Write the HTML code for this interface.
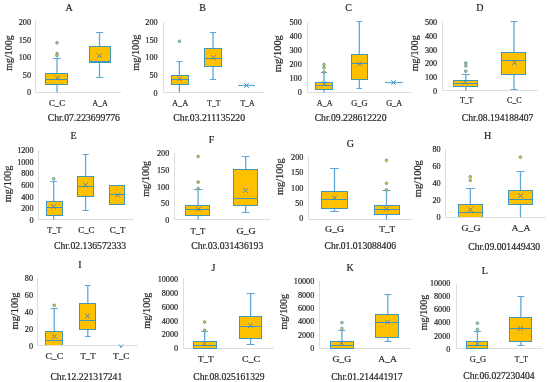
<!DOCTYPE html>
<html><head><meta charset="utf-8"><title>Box plots</title>
<style>
html,body{margin:0;padding:0;background:#fff;width:550px;height:382px;overflow:hidden}
svg{display:block;will-change:transform}
text{font-family:"Liberation Serif",serif;fill:#262626;stroke:#262626;stroke-width:0.2px}
.t{font-size:8.2px}
.ti{font-size:10px}
.yl{font-size:9.6px}
.xl{font-size:8.8px}
.ch{font-size:9.6px}
</style></head><body>
<svg width="550" height="382" viewBox="0 0 550 382">
<rect width="550" height="382" fill="#fff"/>
<g><path d="M35.5 21V92.5H121" stroke="#DDDDDD" stroke-width="1" fill="none"/><text x="31" y="25.25" class="t" text-anchor="end">200</text><text x="31" y="42.95" class="t" text-anchor="end">150</text><text x="31" y="60.35" class="t" text-anchor="end">100</text><text x="31" y="77.95" class="t" text-anchor="end">50</text><text x="31" y="95.25" class="t" text-anchor="end">0</text><path d="M57 58.5V73.5" stroke="#5FA6D9" stroke-width="1.3" fill="none"/><path d="M53.15 58.5H60.85" stroke="#5FA6D9" stroke-width="1" fill="none"/><path d="M57 84.5V92.5" stroke="#5FA6D9" stroke-width="1.3" fill="none"/><rect x="45.5" y="73.5" width="22" height="11" fill="#FFC000" stroke="#3F97C0" stroke-width="1"/><path d="M45.5 79.5H67.5" stroke="#3F97C0" stroke-width="1" fill="none"/><path d="M55.2 75.7L59.8 80.3M55.2 80.3L59.8 75.7" stroke="#4E86A6" stroke-width="1" fill="none"/><circle cx="57" cy="42.8" r="1.35" fill="#FFC000" stroke="#3F97C0" stroke-width="0.8"/><circle cx="57" cy="53.7" r="1.35" fill="#FFC000" stroke="#3F97C0" stroke-width="0.8"/><circle cx="57" cy="55.7" r="1.35" fill="#FFC000" stroke="#3F97C0" stroke-width="0.8"/><path d="M99.5 32.5V46.5" stroke="#5FA6D9" stroke-width="1.3" fill="none"/><path d="M95.85 32.5H103.15" stroke="#5FA6D9" stroke-width="1" fill="none"/><path d="M99.5 62.5V77.5" stroke="#5FA6D9" stroke-width="1.3" fill="none"/><path d="M95.85 77.5H103.15" stroke="#5FA6D9" stroke-width="1" fill="none"/><rect x="89.5" y="46.5" width="21" height="16" fill="#FFC000" stroke="#3F97C0" stroke-width="1"/><path d="M89.5 61.5H110.5" stroke="#3F97C0" stroke-width="1" fill="none"/><path d="M97.2 53.4L101.8 58M97.2 58L101.8 53.4" stroke="#4E86A6" stroke-width="1" fill="none"/><text x="69" y="10.6" class="ti" text-anchor="middle">A</text><text x="0" y="0" class="yl" text-anchor="middle" textLength="35.4" lengthAdjust="spacingAndGlyphs" transform="translate(11.8 53) rotate(-90)">mg/100g</text><text x="49" y="105.9" class="xl" textLength="16" lengthAdjust="spacingAndGlyphs">C_C</text><text x="92.2" y="105.9" class="xl" textLength="15.8" lengthAdjust="spacingAndGlyphs">A_A</text><text x="47.7" y="121" class="ch" textLength="72.3" lengthAdjust="spacingAndGlyphs">Chr.07.223699776</text></g>
<g><path d="M163.5 21.8V92.5H264" stroke="#DDDDDD" stroke-width="1" fill="none"/><text x="157.6" y="24.75" class="t" text-anchor="end">200</text><text x="157.6" y="42.55" class="t" text-anchor="end">150</text><text x="157.6" y="59.95" class="t" text-anchor="end">100</text><text x="157.6" y="77.95" class="t" text-anchor="end">50</text><text x="157.6" y="95.55" class="t" text-anchor="end">0</text><path d="M179.4 61.5V75.5" stroke="#5FA6D9" stroke-width="1.3" fill="none"/><path d="M176.4 61.5H182.4" stroke="#5FA6D9" stroke-width="1" fill="none"/><path d="M179.4 84.5V92.5" stroke="#5FA6D9" stroke-width="1.3" fill="none"/><rect x="171.5" y="75.5" width="17" height="9" fill="#FFC000" stroke="#3F97C0" stroke-width="1"/><path d="M171.5 79.5H188.5" stroke="#3F97C0" stroke-width="1" fill="none"/><path d="M177.2 76.5L181.8 81.1M177.2 81.1L181.8 76.5" stroke="#4E86A6" stroke-width="1" fill="none"/><circle cx="179.4" cy="41.3" r="1.35" fill="#FFC000" stroke="#3F97C0" stroke-width="0.8"/><path d="M213 32.5V48.5" stroke="#5FA6D9" stroke-width="1.3" fill="none"/><path d="M209.95 32.5H216.05" stroke="#5FA6D9" stroke-width="1" fill="none"/><path d="M213 66.5V79.5" stroke="#5FA6D9" stroke-width="1.3" fill="none"/><path d="M209.95 79.5H216.05" stroke="#5FA6D9" stroke-width="1" fill="none"/><rect x="204.5" y="48.5" width="17" height="18" fill="#FFC000" stroke="#3F97C0" stroke-width="1"/><path d="M204.5 58.5H221.5" stroke="#3F97C0" stroke-width="1" fill="none"/><path d="M211.2 55.3L215.8 59.9M211.2 59.9L215.8 55.3" stroke="#4E86A6" stroke-width="1" fill="none"/><path d="M238.1 85.5H255" stroke="#5FA6D9" stroke-width="1.2" fill="none"/><path d="M244.2 83.2L248.8 87.8M244.2 87.8L248.8 83.2" stroke="#3F97C0" stroke-width="1" fill="none"/><text x="202.7" y="10.8" class="ti" text-anchor="middle">B</text><text x="0" y="0" class="yl" text-anchor="middle" textLength="36" lengthAdjust="spacingAndGlyphs" transform="translate(139.35 52.7) rotate(-90)">mg/100g</text><text x="172" y="105.9" class="xl" textLength="16.4" lengthAdjust="spacingAndGlyphs">A_A</text><text x="207.3" y="105.9" class="xl" textLength="13.1" lengthAdjust="spacingAndGlyphs">T_T</text><text x="240.4" y="105.9" class="xl" textLength="14.1" lengthAdjust="spacingAndGlyphs">T_A</text><text x="173.3" y="120.9" class="ch" textLength="71.7" lengthAdjust="spacingAndGlyphs">Chr.03.211135220</text></g>
<g><path d="M307.5 21.8V92.5H411.3" stroke="#DDDDDD" stroke-width="1" fill="none"/><text x="301.8" y="24.85" class="t" text-anchor="end">500</text><text x="301.8" y="38.75" class="t" text-anchor="end">400</text><text x="301.8" y="52.65" class="t" text-anchor="end">300</text><text x="301.8" y="67.05" class="t" text-anchor="end">200</text><text x="301.8" y="80.95" class="t" text-anchor="end">100</text><text x="301.8" y="95.35" class="t" text-anchor="end">0</text><path d="M324 72.5V82.5" stroke="#5FA6D9" stroke-width="1.3" fill="none"/><path d="M320.85 72.5H327.15" stroke="#5FA6D9" stroke-width="1" fill="none"/><path d="M324 89.5V92.5" stroke="#5FA6D9" stroke-width="1.3" fill="none"/><rect x="315.5" y="82.5" width="17" height="7" fill="#FFC000" stroke="#3F97C0" stroke-width="1"/><path d="M315.5 85.5H332.5" stroke="#3F97C0" stroke-width="1" fill="none"/><path d="M322.2 81.5L326.8 86.1M322.2 86.1L326.8 81.5" stroke="#4E86A6" stroke-width="1" fill="none"/><circle cx="324" cy="64.5" r="1.35" fill="#FFC000" stroke="#3F97C0" stroke-width="0.8"/><circle cx="324" cy="67.7" r="1.35" fill="#FFC000" stroke="#3F97C0" stroke-width="0.8"/><circle cx="324" cy="72.1" r="1.35" fill="#FFC000" stroke="#3F97C0" stroke-width="0.8"/><path d="M359.3 21.5V54.5" stroke="#5FA6D9" stroke-width="1.3" fill="none"/><path d="M356.5 21.5H362.1" stroke="#5FA6D9" stroke-width="1" fill="none"/><path d="M359.3 79.5V88.5" stroke="#5FA6D9" stroke-width="1.3" fill="none"/><path d="M356.5 88.5H362.1" stroke="#5FA6D9" stroke-width="1" fill="none"/><rect x="351.5" y="54.5" width="16" height="25" fill="#FFC000" stroke="#3F97C0" stroke-width="1"/><path d="M351.5 63.5H367.5" stroke="#3F97C0" stroke-width="1" fill="none"/><path d="M357.2 61.7L361.8 66.3M357.2 66.3L361.8 61.7" stroke="#4E86A6" stroke-width="1" fill="none"/><path d="M385 82.5H402.8" stroke="#5FA6D9" stroke-width="1.2" fill="none"/><path d="M391.2 80.2L395.8 84.8M391.2 84.8L395.8 80.2" stroke="#3F97C0" stroke-width="1" fill="none"/><text x="348.7" y="10.8" class="ti" text-anchor="middle">C</text><text x="0" y="0" class="yl" text-anchor="middle" textLength="37" lengthAdjust="spacingAndGlyphs" transform="translate(281.45 53.7) rotate(-90)">mg/100g</text><text x="316.8" y="105.9" class="xl" textLength="15.7" lengthAdjust="spacingAndGlyphs">A_A</text><text x="351.3" y="105.9" class="xl" textLength="16.3" lengthAdjust="spacingAndGlyphs">G_G</text><text x="386.3" y="105.9" class="xl" textLength="16" lengthAdjust="spacingAndGlyphs">G_A</text><text x="314.7" y="120.5" class="ch" textLength="71.8" lengthAdjust="spacingAndGlyphs">Chr.09.228612220</text></g>
<g><path d="M442.5 21.8V90.5H537.6" stroke="#DDDDDD" stroke-width="1" fill="none"/><text x="437.2" y="24.85" class="t" text-anchor="end">500</text><text x="437.2" y="38.75" class="t" text-anchor="end">400</text><text x="437.2" y="52.55" class="t" text-anchor="end">300</text><text x="437.2" y="66.35" class="t" text-anchor="end">200</text><text x="437.2" y="80.05" class="t" text-anchor="end">100</text><text x="437.2" y="93.95" class="t" text-anchor="end">0</text><path d="M465.8 74.5V80.5" stroke="#5FA6D9" stroke-width="1.3" fill="none"/><path d="M461.65 74.5H469.95" stroke="#5FA6D9" stroke-width="1" fill="none"/><path d="M465.8 86.5V90.5" stroke="#5FA6D9" stroke-width="1.3" fill="none"/><rect x="453.5" y="80.5" width="24" height="6" fill="#FFC000" stroke="#3F97C0" stroke-width="1"/><path d="M453.5 83.5H477.5" stroke="#3F97C0" stroke-width="1" fill="none"/><path d="M463.2 80.1L467.8 84.7M463.2 84.7L467.8 80.1" stroke="#4E86A6" stroke-width="1" fill="none"/><circle cx="465.8" cy="63.1" r="1.35" fill="#FFC000" stroke="#3F97C0" stroke-width="0.8"/><circle cx="465.8" cy="65.8" r="1.35" fill="#FFC000" stroke="#3F97C0" stroke-width="0.8"/><circle cx="465.8" cy="71.2" r="1.35" fill="#FFC000" stroke="#3F97C0" stroke-width="0.8"/><path d="M514 21.5V52.5" stroke="#5FA6D9" stroke-width="1.3" fill="none"/><path d="M510.5 21.5H517.5" stroke="#5FA6D9" stroke-width="1" fill="none"/><path d="M514 74.5V89.5" stroke="#5FA6D9" stroke-width="1.3" fill="none"/><path d="M510.5 89.5H517.5" stroke="#5FA6D9" stroke-width="1" fill="none"/><rect x="501.5" y="52.5" width="24" height="22" fill="#FFC000" stroke="#3F97C0" stroke-width="1"/><path d="M501.5 60.5H525.5" stroke="#3F97C0" stroke-width="1" fill="none"/><path d="M512.2 60.5L516.8 65.1M512.2 65.1L516.8 60.5" stroke="#4E86A6" stroke-width="1" fill="none"/><text x="479.8" y="10.6" class="ti" text-anchor="middle">D</text><text x="0" y="0" class="yl" text-anchor="middle" textLength="36" lengthAdjust="spacingAndGlyphs" transform="translate(418.25 53.3) rotate(-90)">mg/100g</text><text x="459.9" y="103.2" class="xl" textLength="13.4" lengthAdjust="spacingAndGlyphs">T_T</text><text x="507" y="103.2" class="xl" textLength="14.6" lengthAdjust="spacingAndGlyphs">C_C</text><text x="461.8" y="120.9" class="ch" textLength="71.5" lengthAdjust="spacingAndGlyphs">Chr.08.194188407</text></g>
<g><path d="M38.5 149.7V219.5H133.5" stroke="#DDDDDD" stroke-width="1" fill="none"/><text x="33.5" y="153.45" class="t" text-anchor="end">1200</text><text x="33.5" y="164.95" class="t" text-anchor="end">1000</text><text x="33.5" y="176.35" class="t" text-anchor="end">800</text><text x="33.5" y="187.85" class="t" text-anchor="end">600</text><text x="33.5" y="199.65" class="t" text-anchor="end">400</text><text x="33.5" y="211.35" class="t" text-anchor="end">200</text><text x="33.5" y="222.75" class="t" text-anchor="end">0</text><path d="M53.7 181.5V201.5" stroke="#5FA6D9" stroke-width="1.3" fill="none"/><path d="M50.45 181.5H56.95" stroke="#5FA6D9" stroke-width="1" fill="none"/><path d="M53.7 215.5V219.5" stroke="#5FA6D9" stroke-width="1.3" fill="none"/><rect x="46.5" y="201.5" width="16" height="14" fill="#FFC000" stroke="#3F97C0" stroke-width="1"/><path d="M46.5 207.5H62.5" stroke="#3F97C0" stroke-width="1" fill="none"/><path d="M51.2 204.3L55.8 208.9M51.2 208.9L55.8 204.3" stroke="#4E86A6" stroke-width="1" fill="none"/><circle cx="53.7" cy="178.8" r="1.35" fill="#FFC000" stroke="#3F97C0" stroke-width="0.8"/><path d="M85.6 154.5V176.5" stroke="#5FA6D9" stroke-width="1.3" fill="none"/><path d="M82.5 154.5H88.7" stroke="#5FA6D9" stroke-width="1" fill="none"/><path d="M85.6 196.5V210.5" stroke="#5FA6D9" stroke-width="1.3" fill="none"/><path d="M82.5 210.5H88.7" stroke="#5FA6D9" stroke-width="1" fill="none"/><rect x="77.5" y="176.5" width="16" height="20" fill="#FFC000" stroke="#3F97C0" stroke-width="1"/><path d="M77.5 186.5H93.5" stroke="#3F97C0" stroke-width="1" fill="none"/><path d="M83.2 182.8L87.8 187.4M83.2 187.4L87.8 182.8" stroke="#4E86A6" stroke-width="1" fill="none"/><rect x="109.5" y="185.5" width="15" height="19" fill="#FFC000" stroke="#3F97C0" stroke-width="1"/><path d="M109.5 194.5H124.5" stroke="#3F97C0" stroke-width="1" fill="none"/><path d="M115.2 192.7L119.8 197.3M115.2 197.3L119.8 192.7" stroke="#4E86A6" stroke-width="1" fill="none"/><text x="73.5" y="139.1" class="ti" text-anchor="middle">E</text><text x="0" y="0" class="yl" text-anchor="middle" textLength="36.5" lengthAdjust="spacingAndGlyphs" transform="translate(11.05 183.95) rotate(-90)">mg/100g</text><text x="47.3" y="232.9" class="xl" textLength="14.1" lengthAdjust="spacingAndGlyphs">T_T</text><text x="78.2" y="232.9" class="xl" textLength="16.4" lengthAdjust="spacingAndGlyphs">C_C</text><text x="109.7" y="232.9" class="xl" textLength="15.8" lengthAdjust="spacingAndGlyphs">C_T</text><text x="54" y="249" class="ch" textLength="72.2" lengthAdjust="spacingAndGlyphs">Chr.02.136572333</text></g>
<g><path d="M174.5 152.5V219.5H270" stroke="#DDDDDD" stroke-width="1" fill="none"/><text x="169.3" y="156.15" class="t" text-anchor="end">200</text><text x="169.3" y="172.65" class="t" text-anchor="end">150</text><text x="169.3" y="189.55" class="t" text-anchor="end">100</text><text x="169.3" y="206.05" class="t" text-anchor="end">50</text><text x="169.3" y="222.55" class="t" text-anchor="end">0</text><path d="M198.1 189.5V205.5" stroke="#5FA6D9" stroke-width="1.3" fill="none"/><path d="M193.6 189.5H202.6" stroke="#5FA6D9" stroke-width="1" fill="none"/><path d="M198.1 215.5V219.5" stroke="#5FA6D9" stroke-width="1.3" fill="none"/><rect x="185.5" y="205.5" width="24" height="10" fill="#FFC000" stroke="#3F97C0" stroke-width="1"/><path d="M185.5 209.5H209.5" stroke="#3F97C0" stroke-width="1" fill="none"/><path d="M196.2 206.9L200.8 211.5M196.2 211.5L200.8 206.9" stroke="#4E86A6" stroke-width="1" fill="none"/><circle cx="198.1" cy="156.5" r="1.35" fill="#FFC000" stroke="#3F97C0" stroke-width="0.8"/><circle cx="198.1" cy="182.1" r="1.35" fill="#FFC000" stroke="#3F97C0" stroke-width="0.8"/><circle cx="198.1" cy="188.5" r="1.35" fill="#FFC000" stroke="#3F97C0" stroke-width="0.8"/><path d="M245.7 156.5V169.5" stroke="#5FA6D9" stroke-width="1.3" fill="none"/><path d="M241.85 156.5H249.55" stroke="#5FA6D9" stroke-width="1" fill="none"/><path d="M245.7 205.5V212.5" stroke="#5FA6D9" stroke-width="1.3" fill="none"/><path d="M241.85 212.5H249.55" stroke="#5FA6D9" stroke-width="1" fill="none"/><rect x="233.5" y="169.5" width="24" height="36" fill="#FFC000" stroke="#3F97C0" stroke-width="1"/><path d="M233.5 198.5H257.5" stroke="#3F97C0" stroke-width="1" fill="none"/><path d="M243.2 188.2L247.8 192.8M243.2 192.8L247.8 188.2" stroke="#4E86A6" stroke-width="1" fill="none"/><text x="211.5" y="142.8" class="ti" text-anchor="middle">F</text><text x="0" y="0" class="yl" text-anchor="middle" textLength="35.7" lengthAdjust="spacingAndGlyphs" transform="translate(149.15 178.85) rotate(-90)">mg/100g</text><text x="190.4" y="233.5" class="xl" textLength="15" lengthAdjust="spacingAndGlyphs">T_T</text><text x="236.4" y="233.5" class="xl" textLength="19.2" lengthAdjust="spacingAndGlyphs">G_G</text><text x="191.3" y="249" class="ch" textLength="72" lengthAdjust="spacingAndGlyphs">Chr.03.031436193</text></g>
<g><path d="M308.5 156.6V219.5H412.7" stroke="#DDDDDD" stroke-width="1" fill="none"/><text x="303.4" y="159.85" class="t" text-anchor="end">200</text><text x="303.4" y="175.45" class="t" text-anchor="end">150</text><text x="303.4" y="191.05" class="t" text-anchor="end">100</text><text x="303.4" y="206.05" class="t" text-anchor="end">50</text><text x="303.4" y="221.25" class="t" text-anchor="end">0</text><path d="M334.5 168.5V191.5" stroke="#5FA6D9" stroke-width="1.3" fill="none"/><path d="M330.15 168.5H338.85" stroke="#5FA6D9" stroke-width="1" fill="none"/><path d="M334.5 208.5V211.5" stroke="#5FA6D9" stroke-width="1.3" fill="none"/><path d="M330.15 211.5H338.85" stroke="#5FA6D9" stroke-width="1" fill="none"/><rect x="321.5" y="191.5" width="26" height="17" fill="#FFC000" stroke="#3F97C0" stroke-width="1"/><path d="M321.5 199.5H347.5" stroke="#3F97C0" stroke-width="1" fill="none"/><path d="M332.2 195.7L336.8 200.3M332.2 200.3L336.8 195.7" stroke="#4E86A6" stroke-width="1" fill="none"/><path d="M386.5 190.5V205.5" stroke="#5FA6D9" stroke-width="1.3" fill="none"/><path d="M382.35 190.5H390.65" stroke="#5FA6D9" stroke-width="1" fill="none"/><path d="M386.5 214.5V219.5" stroke="#5FA6D9" stroke-width="1.3" fill="none"/><rect x="374.5" y="205.5" width="25" height="9" fill="#FFC000" stroke="#3F97C0" stroke-width="1"/><path d="M374.5 209.5H399.5" stroke="#3F97C0" stroke-width="1" fill="none"/><path d="M384.2 206.7L388.8 211.3M384.2 211.3L388.8 206.7" stroke="#4E86A6" stroke-width="1" fill="none"/><circle cx="386.5" cy="160.3" r="1.35" fill="#FFC000" stroke="#3F97C0" stroke-width="0.8"/><circle cx="386.5" cy="183.3" r="1.35" fill="#FFC000" stroke="#3F97C0" stroke-width="0.8"/><circle cx="386.5" cy="189.8" r="1.35" fill="#FFC000" stroke="#3F97C0" stroke-width="0.8"/><text x="350.3" y="146.8" class="ti" text-anchor="middle">G</text><text x="0" y="0" class="yl" text-anchor="middle" textLength="36.6" lengthAdjust="spacingAndGlyphs" transform="translate(282.55 176.7) rotate(-90)">mg/100g</text><text x="325.1" y="231.7" class="xl" textLength="19" lengthAdjust="spacingAndGlyphs">G_G</text><text x="379.3" y="231.7" class="xl" textLength="16" lengthAdjust="spacingAndGlyphs">T_T</text><text x="324.6" y="248.9" class="ch" textLength="71.4" lengthAdjust="spacingAndGlyphs">Chr.01.013088406</text></g>
<g><path d="M445.5 148.8V217.5H546" stroke="#DDDDDD" stroke-width="1" fill="none"/><text x="440.7" y="151.95" class="t" text-anchor="end">80</text><text x="440.7" y="168.95" class="t" text-anchor="end">60</text><text x="440.7" y="186.35" class="t" text-anchor="end">40</text><text x="440.7" y="203.35" class="t" text-anchor="end">20</text><text x="440.7" y="220.15" class="t" text-anchor="end">0</text><path d="M470.3 188.5V204.5" stroke="#5FA6D9" stroke-width="1.3" fill="none"/><path d="M465.9 188.5H474.7" stroke="#5FA6D9" stroke-width="1" fill="none"/><clipPath id="c7_8"><rect x="0" y="0" width="550" height="217"/></clipPath><g clip-path="url(#c7_8)"><rect x="458.5" y="204.5" width="24" height="14" fill="#FFC000" stroke="#3F97C0" stroke-width="1"/></g><path d="M458.5 212.5H482.5" stroke="#3F97C0" stroke-width="1" fill="none"/><path d="M468.2 207.4L472.8 212M468.2 212L472.8 207.4" stroke="#4E86A6" stroke-width="1" fill="none"/><circle cx="470.3" cy="176.8" r="1.35" fill="#FFC000" stroke="#3F97C0" stroke-width="0.8"/><circle cx="470.3" cy="180.5" r="1.35" fill="#FFC000" stroke="#3F97C0" stroke-width="0.8"/><path d="M520.5 171.5V190.5" stroke="#5FA6D9" stroke-width="1.3" fill="none"/><path d="M516.35 171.5H524.65" stroke="#5FA6D9" stroke-width="1" fill="none"/><path d="M520.5 204.5V217.5" stroke="#5FA6D9" stroke-width="1.3" fill="none"/><rect x="508.5" y="190.5" width="24" height="14" fill="#FFC000" stroke="#3F97C0" stroke-width="1"/><path d="M508.5 199.5H532.5" stroke="#3F97C0" stroke-width="1" fill="none"/><path d="M518.2 193.3L522.8 197.9M518.2 197.9L522.8 193.3" stroke="#4E86A6" stroke-width="1" fill="none"/><circle cx="520.5" cy="157.2" r="1.35" fill="#FFC000" stroke="#3F97C0" stroke-width="0.8"/><text x="487.5" y="138.8" class="ti" text-anchor="middle">H</text><text x="0" y="0" class="yl" text-anchor="middle" textLength="37" lengthAdjust="spacingAndGlyphs" transform="translate(421.15 178.7) rotate(-90)">mg/100g</text><text x="461.6" y="231.1" class="xl" textLength="18.9" lengthAdjust="spacingAndGlyphs">G_G</text><text x="511.5" y="231.1" class="xl" textLength="18.9" lengthAdjust="spacingAndGlyphs">A_A</text><text x="468.2" y="249.9" class="ch" textLength="72" lengthAdjust="spacingAndGlyphs">Chr.09.001449430</text></g>
<g><path d="M37.5 277.9V345.5H137.7" stroke="#DDDDDD" stroke-width="1" fill="none"/><text x="33" y="281.05" class="t" text-anchor="end">80</text><text x="33" y="297.75" class="t" text-anchor="end">60</text><text x="33" y="314.95" class="t" text-anchor="end">40</text><text x="33" y="331.65" class="t" text-anchor="end">20</text><text x="33" y="348.65" class="t" text-anchor="end">0</text><path d="M54.2 308.5V331.5" stroke="#5FA6D9" stroke-width="1.3" fill="none"/><path d="M50.6 308.5H57.8" stroke="#5FA6D9" stroke-width="1" fill="none"/><clipPath id="c8_8"><rect x="0" y="0" width="550" height="345"/></clipPath><g clip-path="url(#c8_8)"><rect x="45.5" y="331.5" width="17" height="16" fill="#FFC000" stroke="#3F97C0" stroke-width="1"/></g><path d="M45.5 340.5H62.5" stroke="#3F97C0" stroke-width="1" fill="none"/><path d="M52.2 334.2L56.8 338.8M52.2 338.8L56.8 334.2" stroke="#4E86A6" stroke-width="1" fill="none"/><circle cx="54.2" cy="305.3" r="1.35" fill="#FFC000" stroke="#3F97C0" stroke-width="0.8"/><path d="M87.8 285.5V303.5" stroke="#5FA6D9" stroke-width="1.3" fill="none"/><path d="M84.95 285.5H90.65" stroke="#5FA6D9" stroke-width="1" fill="none"/><path d="M87.8 329.5V336.5" stroke="#5FA6D9" stroke-width="1.3" fill="none"/><path d="M84.95 336.5H90.65" stroke="#5FA6D9" stroke-width="1" fill="none"/><rect x="79.5" y="303.5" width="16" height="26" fill="#FFC000" stroke="#3F97C0" stroke-width="1"/><path d="M79.5 320.5H95.5" stroke="#3F97C0" stroke-width="1" fill="none"/><path d="M85.2 313.7L89.8 318.3M85.2 318.3L89.8 313.7" stroke="#4E86A6" stroke-width="1" fill="none"/><clipPath id="clipI"><rect x="0" y="0" width="550" height="347.5"/></clipPath><g clip-path="url(#clipI)"><path d="M118.6 344.6L123.4 349.4M118.6 349.4L123.4 344.6" stroke="#3F97C0" stroke-width="1" fill="none"/></g><text x="79.8" y="267.5" class="ti" text-anchor="middle">I</text><text x="0" y="0" class="yl" text-anchor="middle" textLength="36.8" lengthAdjust="spacingAndGlyphs" transform="translate(17.6 311) rotate(-90)">mg/100g</text><text x="45.4" y="358.8" class="xl" textLength="17.8" lengthAdjust="spacingAndGlyphs">C_C</text><text x="80.4" y="358.8" class="xl" textLength="15.2" lengthAdjust="spacingAndGlyphs">T_T</text><text x="113.1" y="358.8" class="xl" textLength="16.4" lengthAdjust="spacingAndGlyphs">T_C</text><text x="50.4" y="380" class="ch" textLength="71.9" lengthAdjust="spacingAndGlyphs">Chr.12.221317241</text></g>
<g><path d="M183.5 278.8V348.5H273.5" stroke="#DDDDDD" stroke-width="1" fill="none"/><text x="178.1" y="282.45" class="t" text-anchor="end">10000</text><text x="178.1" y="296.25" class="t" text-anchor="end">8000</text><text x="178.1" y="309.95" class="t" text-anchor="end">6000</text><text x="178.1" y="323.65" class="t" text-anchor="end">4000</text><text x="178.1" y="337.25" class="t" text-anchor="end">2000</text><text x="178.1" y="351.35" class="t" text-anchor="end">0</text><path d="M204.6 331.5V341.5" stroke="#5FA6D9" stroke-width="1.3" fill="none"/><path d="M201.1 331.5H208.1" stroke="#5FA6D9" stroke-width="1" fill="none"/><rect x="193.5" y="341.5" width="23" height="7" fill="#FFC000" stroke="#3F97C0" stroke-width="1"/><path d="M193.5 345.5H216.5" stroke="#3F97C0" stroke-width="1" fill="none"/><path d="M202.2 341.4L206.8 346M202.2 346L206.8 341.4" stroke="#4E86A6" stroke-width="1" fill="none"/><circle cx="204.6" cy="322" r="1.35" fill="#FFC000" stroke="#3F97C0" stroke-width="0.8"/><circle cx="204.6" cy="330.3" r="1.35" fill="#FFC000" stroke="#3F97C0" stroke-width="0.8"/><path d="M250.6 293.5V316.5" stroke="#5FA6D9" stroke-width="1.3" fill="none"/><path d="M246.6 293.5H254.6" stroke="#5FA6D9" stroke-width="1" fill="none"/><path d="M250.6 338.5V344.5" stroke="#5FA6D9" stroke-width="1.3" fill="none"/><path d="M246.6 344.5H254.6" stroke="#5FA6D9" stroke-width="1" fill="none"/><rect x="239.5" y="316.5" width="22" height="22" fill="#FFC000" stroke="#3F97C0" stroke-width="1"/><path d="M239.5 326.5H261.5" stroke="#3F97C0" stroke-width="1" fill="none"/><path d="M248.2 323.3L252.8 327.9M248.2 327.9L252.8 323.3" stroke="#4E86A6" stroke-width="1" fill="none"/><text x="213.5" y="271.2" class="ti" text-anchor="middle">J</text><text x="0" y="0" class="yl" text-anchor="middle" textLength="36.1" lengthAdjust="spacingAndGlyphs" transform="translate(150.35 310.65) rotate(-90)">mg/100g</text><text x="197.9" y="361.6" class="xl" textLength="15.8" lengthAdjust="spacingAndGlyphs">T_T</text><text x="242" y="361.6" class="xl" textLength="18" lengthAdjust="spacingAndGlyphs">C_C</text><text x="193.3" y="379.5" class="ch" textLength="71.2" lengthAdjust="spacingAndGlyphs">Chr.08.025161329</text></g>
<g><path d="M319.5 281V348.5H410.5" stroke="#DDDDDD" stroke-width="1" fill="none"/><text x="314.3" y="284.35" class="t" text-anchor="end">10000</text><text x="314.3" y="297.55" class="t" text-anchor="end">8000</text><text x="314.3" y="311.35" class="t" text-anchor="end">6000</text><text x="314.3" y="324.25" class="t" text-anchor="end">4000</text><text x="314.3" y="338.05" class="t" text-anchor="end">2000</text><text x="314.3" y="351.15" class="t" text-anchor="end">0</text><path d="M341.9 330.5V341.5" stroke="#5FA6D9" stroke-width="1.3" fill="none"/><path d="M338.45 330.5H345.35" stroke="#5FA6D9" stroke-width="1" fill="none"/><rect x="330.5" y="341.5" width="23" height="7" fill="#FFC000" stroke="#3F97C0" stroke-width="1"/><path d="M330.5 345.5H353.5" stroke="#3F97C0" stroke-width="1" fill="none"/><path d="M339.2 340.7L343.8 345.3M339.2 345.3L343.8 340.7" stroke="#4E86A6" stroke-width="1" fill="none"/><circle cx="341.9" cy="322.6" r="1.35" fill="#FFC000" stroke="#3F97C0" stroke-width="0.8"/><circle cx="341.9" cy="328.5" r="1.35" fill="#FFC000" stroke="#3F97C0" stroke-width="0.8"/><path d="M387.8 294.5V314.5" stroke="#5FA6D9" stroke-width="1.3" fill="none"/><path d="M384.35 294.5H391.25" stroke="#5FA6D9" stroke-width="1" fill="none"/><path d="M387.8 337.5V341.5" stroke="#5FA6D9" stroke-width="1.3" fill="none"/><path d="M384.35 341.5H391.25" stroke="#5FA6D9" stroke-width="1" fill="none"/><rect x="375.5" y="314.5" width="23" height="23" fill="#FFC000" stroke="#3F97C0" stroke-width="1"/><path d="M375.5 322.5H398.5" stroke="#3F97C0" stroke-width="1" fill="none"/><path d="M385.2 319.9L389.8 324.5M385.2 324.5L389.8 319.9" stroke="#4E86A6" stroke-width="1" fill="none"/><text x="350.1" y="271.1" class="ti" text-anchor="middle">K</text><text x="0" y="0" class="yl" text-anchor="middle" textLength="35.5" lengthAdjust="spacingAndGlyphs" transform="translate(287.1 311.65) rotate(-90)">mg/100g</text><text x="332.4" y="361.9" class="xl" textLength="18.8" lengthAdjust="spacingAndGlyphs">G_G</text><text x="378.2" y="361.9" class="xl" textLength="18.8" lengthAdjust="spacingAndGlyphs">A_A</text><text x="331.2" y="379.8" class="ch" textLength="71.5" lengthAdjust="spacingAndGlyphs">Chr.01.214441917</text></g>
<g><path d="M456.5 283.5V348.5H542.6" stroke="#DDDDDD" stroke-width="1" fill="none"/><text x="450.4" y="286.25" class="t" text-anchor="end">10000</text><text x="450.4" y="299.05" class="t" text-anchor="end">8000</text><text x="450.4" y="312.25" class="t" text-anchor="end">6000</text><text x="450.4" y="325.45" class="t" text-anchor="end">4000</text><text x="450.4" y="338.55" class="t" text-anchor="end">2000</text><text x="450.4" y="351.95" class="t" text-anchor="end">0</text><path d="M477.4 331.5V341.5" stroke="#5FA6D9" stroke-width="1.3" fill="none"/><path d="M473.9 331.5H480.9" stroke="#5FA6D9" stroke-width="1" fill="none"/><rect x="466.5" y="341.5" width="21" height="7" fill="#FFC000" stroke="#3F97C0" stroke-width="1"/><path d="M466.5 345.5H487.5" stroke="#3F97C0" stroke-width="1" fill="none"/><path d="M475.2 341.4L479.8 346M475.2 346L479.8 341.4" stroke="#4E86A6" stroke-width="1" fill="none"/><circle cx="477.4" cy="323.2" r="1.35" fill="#FFC000" stroke="#3F97C0" stroke-width="0.8"/><circle cx="477.4" cy="329.4" r="1.35" fill="#FFC000" stroke="#3F97C0" stroke-width="0.8"/><path d="M520.9 296.5V317.5" stroke="#5FA6D9" stroke-width="1.3" fill="none"/><path d="M517.4 296.5H524.4" stroke="#5FA6D9" stroke-width="1" fill="none"/><path d="M520.9 341.5V345.5" stroke="#5FA6D9" stroke-width="1.3" fill="none"/><path d="M517.4 345.5H524.4" stroke="#5FA6D9" stroke-width="1" fill="none"/><rect x="509.5" y="317.5" width="22" height="24" fill="#FFC000" stroke="#3F97C0" stroke-width="1"/><path d="M509.5 328.5H531.5" stroke="#3F97C0" stroke-width="1" fill="none"/><path d="M518.2 326.1L522.8 330.7M518.2 330.7L522.8 326.1" stroke="#4E86A6" stroke-width="1" fill="none"/><text x="484.8" y="273.7" class="ti" text-anchor="middle">L</text><text x="0" y="0" class="yl" text-anchor="middle" textLength="35.5" lengthAdjust="spacingAndGlyphs" transform="translate(427.15 312.55) rotate(-90)">mg/100g</text><text x="469.8" y="361.9" class="xl" textLength="16.4" lengthAdjust="spacingAndGlyphs">G_G</text><text x="514.8" y="361.9" class="xl" textLength="13.1" lengthAdjust="spacingAndGlyphs">T_T</text><text x="463.3" y="378.5" class="ch" textLength="71.2" lengthAdjust="spacingAndGlyphs">Chr.06.027230404</text></g>
</svg>
</body></html>
